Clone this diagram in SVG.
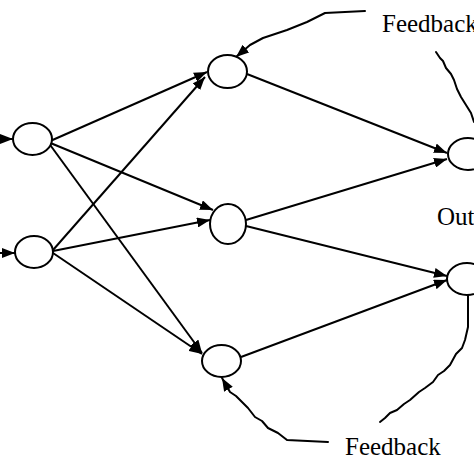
<svg xmlns="http://www.w3.org/2000/svg" width="474" height="474" viewBox="0 0 474 474">
<style>
.node{fill:#fff;stroke:#000;stroke-width:2}
.c{fill:none;stroke:#000;stroke-width:2}
.w{fill:none;stroke:#000;stroke-width:2;stroke-linejoin:round;stroke-linecap:round}
.t{font-family:"Liberation Serif","Times New Roman",serif;font-size:25px;fill:#000}
</style>
<defs>
<marker id="ah" markerWidth="13" markerHeight="10" refX="13" refY="5" orient="auto" markerUnits="userSpaceOnUse">
<path d="M0,0 L13,5 L0,10 z" fill="#000"/>
</marker>
</defs>
<rect width="474" height="474" fill="#fff"/>
<g id="connectors">
<line class="c" x1="0" y1="139" x2="13" y2="139" marker-end="url(#ah)"/>
<line class="c" x1="0" y1="253" x2="15" y2="253" marker-end="url(#ah)"/>
<line class="c" x1="48" y1="142" x2="207" y2="72" marker-end="url(#ah)"/>
<line class="c" x1="48" y1="142" x2="213" y2="210" marker-end="url(#ah)"/>
<line class="c" x1="48" y1="142" x2="202" y2="353" marker-end="url(#ah)"/>
<line class="c" x1="53" y1="250" x2="205" y2="77" marker-end="url(#ah)"/>
<line class="c" x1="53" y1="251" x2="210" y2="220" marker-end="url(#ah)"/>
<line class="c" x1="53" y1="253" x2="202" y2="354" marker-end="url(#ah)"/>
<line class="c" x1="247" y1="74" x2="447" y2="153" marker-end="url(#ah)"/>
<line class="c" x1="246" y1="220" x2="447" y2="159" marker-end="url(#ah)"/>
<line class="c" x1="246" y1="226" x2="447" y2="276" marker-end="url(#ah)"/>
<line class="c" x1="241" y1="357" x2="447" y2="280" marker-end="url(#ah)"/>
<polyline class="w" points="365,11 325,13 307,22 287,30 263,38 250,45 236,57" marker-end="url(#ah)"/>
<polyline class="w" points="328,442 287,440 278,433 268,428 262,421 255,417 248,408 242,402 236,396 230,392 222,378" marker-end="url(#ah)"/>
<polyline class="w" points="436,52 440,58 443,61 446,68 451,74 454,80 457,89 461,97 466,105 471,113 474,122"/>
<polyline class="w" points="468,294 468,327 465,340 462,348 456,354 450,365 444,371 438,375 433,382 425,388 419,392 410,400 404,404 397,410 390,413 385,418 380,422"/>
</g>
<g id="in1"><ellipse class="node" cx="32.5" cy="139" rx="19.5" ry="16"/></g>
<g id="in2"><ellipse class="node" cx="34" cy="252" rx="19" ry="16"/></g>
<g id="h1"><ellipse class="node" cx="227.5" cy="71.5" rx="19.5" ry="16.5"/></g>
<g id="h2"><ellipse class="node" cx="228" cy="224" rx="18" ry="20"/></g>
<g id="h3"><ellipse class="node" cx="221.5" cy="361" rx="19.5" ry="16"/></g>
<g id="o1"><ellipse class="node" cx="468" cy="154" rx="20" ry="16"/></g>
<g id="o2"><ellipse class="node" cx="467" cy="279" rx="20" ry="16"/></g>
<g id="labels">
<text class="t" x="382" y="32">Feedback</text>
<text class="t" x="437" y="225">Output</text>
<text class="t" x="345" y="455">Feedback</text>
</g>
</svg>
